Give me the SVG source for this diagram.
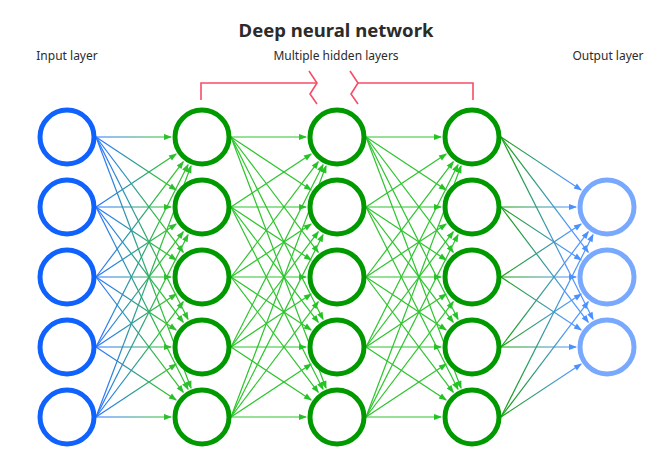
<svg xmlns="http://www.w3.org/2000/svg" width="665" height="472" viewBox="0 0 665 472">
<style>
.title{font-family:"Noto Sans","Open Sans",sans-serif;font-weight:700;font-size:18.5px;fill:#2b2b2b;text-anchor:middle}
.lbl{font-family:"Noto Sans","Open Sans",sans-serif;font-size:12px;fill:#2b2b2b;text-anchor:middle}
.in{fill:#fff;stroke:#0f62fe;stroke-width:5}
.hid{fill:#fff;stroke:#009a00;stroke-width:5}
.out{fill:#fff;stroke:#78a9ff;stroke-width:5}
.e1{stroke:url(#g1);stroke-width:1.2;fill:none;marker-end:url(#a1)}
.e2{stroke:#2cc42c;stroke-width:1.2;fill:none;marker-end:url(#a2)}
.e3{stroke:url(#g3);stroke-width:1.2;fill:none;marker-end:url(#a3)}
.br{stroke:#f74d66;stroke-width:1.6;fill:none;stroke-linejoin:miter}
</style>
<defs>
<linearGradient id="g1" gradientUnits="userSpaceOnUse" x1="96" y1="0" x2="172" y2="0">
<stop offset="0.1" stop-color="#2a78fa"/><stop offset="0.9" stop-color="#2dc02d"/>
</linearGradient>
<linearGradient id="g3" gradientUnits="userSpaceOnUse" x1="501" y1="0" x2="577" y2="0">
<stop offset="0.1" stop-color="#1c9e1c"/><stop offset="0.9" stop-color="#4f95ff"/>
</linearGradient>
<marker id="a1" markerUnits="userSpaceOnUse" markerWidth="10" markerHeight="8" refX="7" refY="3" orient="auto" overflow="visible"><path d="M0,0 L8,3 L0,6 z" fill="#2dbf2d"/></marker>
<marker id="a2" markerUnits="userSpaceOnUse" markerWidth="10" markerHeight="8" refX="7" refY="3" orient="auto" overflow="visible"><path d="M0,0 L8,3 L0,6 z" fill="#22c322"/></marker>
<marker id="a3" markerUnits="userSpaceOnUse" markerWidth="10" markerHeight="8" refX="7" refY="3" orient="auto" overflow="visible"><path d="M0,0 L8,3 L0,6 z" fill="#4a90ff"/></marker>
</defs>
<rect width="665" height="472" fill="#fff"/>
<text class="title" x="336" y="37">Deep neural network</text>
<text class="lbl" x="67" y="60">Input layer</text>
<text class="lbl" x="336" y="60">Multiple hidden layers</text>
<text class="lbl" x="608" y="60">Output layer</text>
<g id="bracket">
<polyline class="br" points="201,100 201,83 317,83"/>
<polyline class="br" points="309,71 317,83 310,94 317,104" stroke-width="2"/>
<polyline class="br" points="350,71 358,83 351,94 358,104" stroke-width="2"/>
<polyline class="br" points="358,83 473,83 473,100"/>
</g>
<g id="connectors">
<g id="input-to-hidden1">
<line class="e1" x1="96" y1="137" x2="171" y2="137"/>
<line class="e1" x1="96" y1="137" x2="176.13" y2="189.92"/>
<line class="e1" x1="96" y1="137" x2="183.29" y2="252.28"/>
<line class="e1" x1="96" y1="137" x2="188.03" y2="319.33"/>
<line class="e1" x1="96" y1="137" x2="191.02" y2="388.01"/>
<line class="e1" x1="96" y1="207" x2="176.13" y2="154.08"/>
<line class="e1" x1="96" y1="207" x2="171" y2="207"/>
<line class="e1" x1="96" y1="207" x2="176.13" y2="259.92"/>
<line class="e1" x1="96" y1="207" x2="183.29" y2="322.28"/>
<line class="e1" x1="96" y1="207" x2="188.03" y2="389.33"/>
<line class="e1" x1="96" y1="277" x2="183.29" y2="161.72"/>
<line class="e1" x1="96" y1="277" x2="176.13" y2="224.08"/>
<line class="e1" x1="96" y1="277" x2="171" y2="277"/>
<line class="e1" x1="96" y1="277" x2="176.13" y2="329.92"/>
<line class="e1" x1="96" y1="277" x2="183.29" y2="392.28"/>
<line class="e1" x1="96" y1="347" x2="188.03" y2="164.67"/>
<line class="e1" x1="96" y1="347" x2="183.29" y2="231.72"/>
<line class="e1" x1="96" y1="347" x2="176.13" y2="294.08"/>
<line class="e1" x1="96" y1="347" x2="171" y2="347"/>
<line class="e1" x1="96" y1="347" x2="176.13" y2="399.92"/>
<line class="e1" x1="96" y1="417" x2="191.02" y2="165.99"/>
<line class="e1" x1="96" y1="417" x2="188.03" y2="234.67"/>
<line class="e1" x1="96" y1="417" x2="183.29" y2="301.72"/>
<line class="e1" x1="96" y1="417" x2="176.13" y2="364.08"/>
<line class="e1" x1="96" y1="417" x2="171" y2="417"/>
</g>
<g id="hidden1-to-hidden2">
<line class="e2" x1="231" y1="137" x2="306" y2="137"/>
<line class="e2" x1="231" y1="137" x2="311.13" y2="189.92"/>
<line class="e2" x1="231" y1="137" x2="318.29" y2="252.28"/>
<line class="e2" x1="231" y1="137" x2="323.03" y2="319.33"/>
<line class="e2" x1="231" y1="137" x2="326.02" y2="388.01"/>
<line class="e2" x1="231" y1="207" x2="311.13" y2="154.08"/>
<line class="e2" x1="231" y1="207" x2="306" y2="207"/>
<line class="e2" x1="231" y1="207" x2="311.13" y2="259.92"/>
<line class="e2" x1="231" y1="207" x2="318.29" y2="322.28"/>
<line class="e2" x1="231" y1="207" x2="323.03" y2="389.33"/>
<line class="e2" x1="231" y1="277" x2="318.29" y2="161.72"/>
<line class="e2" x1="231" y1="277" x2="311.13" y2="224.08"/>
<line class="e2" x1="231" y1="277" x2="306" y2="277"/>
<line class="e2" x1="231" y1="277" x2="311.13" y2="329.92"/>
<line class="e2" x1="231" y1="277" x2="318.29" y2="392.28"/>
<line class="e2" x1="231" y1="347" x2="323.03" y2="164.67"/>
<line class="e2" x1="231" y1="347" x2="318.29" y2="231.72"/>
<line class="e2" x1="231" y1="347" x2="311.13" y2="294.08"/>
<line class="e2" x1="231" y1="347" x2="306" y2="347"/>
<line class="e2" x1="231" y1="347" x2="311.13" y2="399.92"/>
<line class="e2" x1="231" y1="417" x2="326.02" y2="165.99"/>
<line class="e2" x1="231" y1="417" x2="323.03" y2="234.67"/>
<line class="e2" x1="231" y1="417" x2="318.29" y2="301.72"/>
<line class="e2" x1="231" y1="417" x2="311.13" y2="364.08"/>
<line class="e2" x1="231" y1="417" x2="306" y2="417"/>
</g>
<g id="hidden2-to-hidden3">
<line class="e2" x1="366" y1="137" x2="441" y2="137"/>
<line class="e2" x1="366" y1="137" x2="446.13" y2="189.92"/>
<line class="e2" x1="366" y1="137" x2="453.29" y2="252.28"/>
<line class="e2" x1="366" y1="137" x2="458.03" y2="319.33"/>
<line class="e2" x1="366" y1="137" x2="461.02" y2="388.01"/>
<line class="e2" x1="366" y1="207" x2="446.13" y2="154.08"/>
<line class="e2" x1="366" y1="207" x2="441" y2="207"/>
<line class="e2" x1="366" y1="207" x2="446.13" y2="259.92"/>
<line class="e2" x1="366" y1="207" x2="453.29" y2="322.28"/>
<line class="e2" x1="366" y1="207" x2="458.03" y2="389.33"/>
<line class="e2" x1="366" y1="277" x2="453.29" y2="161.72"/>
<line class="e2" x1="366" y1="277" x2="446.13" y2="224.08"/>
<line class="e2" x1="366" y1="277" x2="441" y2="277"/>
<line class="e2" x1="366" y1="277" x2="446.13" y2="329.92"/>
<line class="e2" x1="366" y1="277" x2="453.29" y2="392.28"/>
<line class="e2" x1="366" y1="347" x2="458.03" y2="164.67"/>
<line class="e2" x1="366" y1="347" x2="453.29" y2="231.72"/>
<line class="e2" x1="366" y1="347" x2="446.13" y2="294.08"/>
<line class="e2" x1="366" y1="347" x2="441" y2="347"/>
<line class="e2" x1="366" y1="347" x2="446.13" y2="399.92"/>
<line class="e2" x1="366" y1="417" x2="461.02" y2="165.99"/>
<line class="e2" x1="366" y1="417" x2="458.03" y2="234.67"/>
<line class="e2" x1="366" y1="417" x2="453.29" y2="301.72"/>
<line class="e2" x1="366" y1="417" x2="446.13" y2="364.08"/>
<line class="e2" x1="366" y1="417" x2="441" y2="417"/>
</g>
<g id="hidden3-to-output">
<line class="e3" x1="501" y1="137" x2="581.13" y2="189.92"/>
<line class="e3" x1="501" y1="137" x2="588.29" y2="252.28"/>
<line class="e3" x1="501" y1="137" x2="593.03" y2="319.33"/>
<line class="e3" x1="501" y1="207" x2="576" y2="207"/>
<line class="e3" x1="501" y1="207" x2="581.13" y2="259.92"/>
<line class="e3" x1="501" y1="207" x2="588.29" y2="322.28"/>
<line class="e3" x1="501" y1="277" x2="581.13" y2="224.08"/>
<line class="e3" x1="501" y1="277" x2="576" y2="277"/>
<line class="e3" x1="501" y1="277" x2="581.13" y2="329.92"/>
<line class="e3" x1="501" y1="347" x2="588.29" y2="231.72"/>
<line class="e3" x1="501" y1="347" x2="581.13" y2="294.08"/>
<line class="e3" x1="501" y1="347" x2="576" y2="347"/>
<line class="e3" x1="501" y1="417" x2="593.03" y2="234.67"/>
<line class="e3" x1="501" y1="417" x2="588.29" y2="301.72"/>
<line class="e3" x1="501" y1="417" x2="581.13" y2="364.08"/>
</g>
</g>
<g id="input-layer">
<g id="in1"><circle class="in" cx="67" cy="137" r="27"/></g>
<g id="in2"><circle class="in" cx="67" cy="207" r="27"/></g>
<g id="in3"><circle class="in" cx="67" cy="277" r="27"/></g>
<g id="in4"><circle class="in" cx="67" cy="347" r="27"/></g>
<g id="in5"><circle class="in" cx="67" cy="417" r="27"/></g>
</g>
<g id="hidden-layer-1">
<g id="h1n1"><circle class="hid" cx="202" cy="137" r="27"/></g>
<g id="h1n2"><circle class="hid" cx="202" cy="207" r="27"/></g>
<g id="h1n3"><circle class="hid" cx="202" cy="277" r="27"/></g>
<g id="h1n4"><circle class="hid" cx="202" cy="347" r="27"/></g>
<g id="h1n5"><circle class="hid" cx="202" cy="417" r="27"/></g>
</g>
<g id="hidden-layer-2">
<g id="h2n1"><circle class="hid" cx="337" cy="137" r="27"/></g>
<g id="h2n2"><circle class="hid" cx="337" cy="207" r="27"/></g>
<g id="h2n3"><circle class="hid" cx="337" cy="277" r="27"/></g>
<g id="h2n4"><circle class="hid" cx="337" cy="347" r="27"/></g>
<g id="h2n5"><circle class="hid" cx="337" cy="417" r="27"/></g>
</g>
<g id="hidden-layer-3">
<g id="h3n1"><circle class="hid" cx="472" cy="137" r="27"/></g>
<g id="h3n2"><circle class="hid" cx="472" cy="207" r="27"/></g>
<g id="h3n3"><circle class="hid" cx="472" cy="277" r="27"/></g>
<g id="h3n4"><circle class="hid" cx="472" cy="347" r="27"/></g>
<g id="h3n5"><circle class="hid" cx="472" cy="417" r="27"/></g>
</g>
<g id="output-layer">
<g id="out1"><circle class="out" cx="607" cy="207" r="27"/></g>
<g id="out2"><circle class="out" cx="607" cy="277" r="27"/></g>
<g id="out3"><circle class="out" cx="607" cy="347" r="27"/></g>
</g>
</svg>
